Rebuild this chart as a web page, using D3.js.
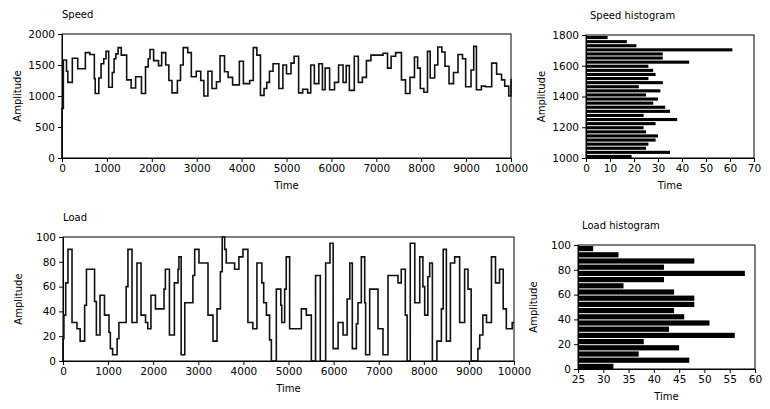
<!DOCTYPE html>
<html><head><meta charset="utf-8">
<script src="https://cdn.jsdelivr.net/npm/d3@7"></script>
<style>
body{margin:0;background:#fff;}
text{font-family:"DejaVu Sans",sans-serif;font-size:10px;fill:#000;}
.axis path,.axis line{stroke:#000;}
</style></head><body><svg id="c" width="770" height="409"></svg>
<script>
// step series: [start time, value]
var speedSteps = [[0,800],[30,1580],[100,1400],[130,1220],[230,1610],[350,1440],[520,1700],[620,1670],[720,1280],[740,1040],[820,1290],[870,1520],[930,1600],[980,1720],[1040,1140],[1120,1380],[1160,1600],[1200,1680],[1250,1780],[1320,1660],[1440,1260],[1540,1130],[1640,1310],[1770,1040],[1860,1470],[1920,1600],[1960,1750],[2040,1570],[2150,1490],[2220,1700],[2310,1500],[2380,1250],[2450,1050],[2570,1250],[2640,1500],[2700,1780],[2800,1700],[2880,1310],[2990,1400],[3090,1250],[3160,1000],[3250,1400],[3340,1120],[3440,1230],[3520,1650],[3620,1390],[3700,1300],[3800,1180],[3950,1560],[4040,1200],[4180,1250],[4260,1780],[4340,1660],[4420,1010],[4500,1120],[4560,1220],[4620,1400],[4700,1520],[4830,1120],[4920,1500],[5000,1360],[5100,1530],[5170,1640],[5270,1050],[5360,1110],[5470,1050],[5540,1500],[5620,1200],[5720,1520],[5800,1100],[5860,1450],[5960,1100],[6070,1220],[6160,1500],[6260,1220],[6330,1490],[6400,1090],[6510,1640],[6600,1220],[6690,1300],[6780,1570],[6880,1660],[7150,1690],[7250,1450],[7330,1640],[7430,1700],[7560,1260],[7650,1040],[7750,1300],[7850,1630],[7920,1450],[7980,1120],[8060,1060],[8140,1720],[8200,1290],[8300,1500],[8370,1790],[8460,1710],[8530,1480],[8620,1200],[8720,1380],[8820,1670],[8920,1600],[8990,1150],[9110,1420],[9170,1800],[9230,1100],[9340,1160],[9430,1150],[9570,1530],[9680,1350],[9790,1260],[9860,1160],[9950,1000],[10000,1280]];
var loadSteps = [[0,18],[20,37],[60,63],[110,90],[200,31],[310,26],[380,16],[480,45],[520,74],[700,48],[740,21],[820,53],[920,37],[1020,23],[1050,10],[1100,5],[1200,18],[1240,31],[1400,60],[1440,90],[1530,31],[1640,79],[1730,37],[1830,31],[1880,26],[1950,53],[2050,42],[2240,58],[2270,74],[2360,21],[2470,63],[2550,74],[2570,84],[2620,5],[2700,47],[2880,69],[2920,90],[3015,79],[3215,37],[3326,16],[3415,42],[3490,72],[3530,100],[3585,90],[3620,79],[3805,74],[3900,84],[3990,90],[4100,31],[4210,26],[4300,79],[4410,63],[4450,47],[4510,37],[4580,17],[4620,0],[4730,58],[4830,45],[4850,31],[4915,58],[4950,84],[5025,26],[5285,42],[5395,37],[5506,0],[5600,69],[5705,0],[5824,79],[5920,95],[5990,10],[6100,31],[6210,21],[6300,50],[6360,79],[6415,10],[6505,30],[6540,47],[6615,84],[6690,47],[6710,5],[6800,58],[6985,26],[7095,5],[7206,69],[7428,63],[7500,74],[7590,37],[7630,0],[7700,95],[7800,47],[7910,84],[7980,60],[8020,37],[8090,68],[8130,79],[8190,0],[8290,16],[8390,42],[8430,90],[8500,16],[8590,79],[8685,84],[8795,31],[8905,74],[8980,58],[9050,0],[9200,10],[9240,21],[9310,37],[9390,31],[9500,84],[9590,63],[9680,74],[9760,42],[9830,26],[9960,31],[10000,31]];
// histogram counts, top bin first
var speedHist = [9,17,21,61,32,32,43,26,28,29,26,32,22,31,25,30,28,33,35,24,38,29,24,25,30,29,26,25,35,19];
var loadHist = [28,33,48,42,58,42,34,44,48,48,44,46,51,43,56,38,45,37,47,32];
var timeTicks = d3.range(0, 10001, 1000);

var svg = d3.select("#c");

function axes(g, x, y, w, h, xt, yt, yLabel) {
  g.append("rect").attr("width", w).attr("height", h)
    .attr("fill", "none").attr("stroke", "#000");
  g.append("g").attr("class", "axis").attr("transform", `translate(0,${h})`)
    .call(d3.axisBottom(x).tickValues(xt).tickSize(4).tickSizeOuter(0).tickFormat(d3.format("d")));
  g.append("g").attr("class", "axis")
    .call(d3.axisLeft(y).tickValues(yt).tickSize(4).tickSizeOuter(0).tickFormat(d3.format("d")));
  g.selectAll(".axis text").style("font-size", "10.5px");
  g.append("text").attr("x", w / 2).attr("y", h + 31).attr("text-anchor", "middle").text("Time");
  if (yLabel) g.append("text").attr("transform", `translate(-41,${h / 2}) rotate(-90)`)
    .attr("text-anchor", "middle").text("Amplitude");
}

function stepPlot(left, top, w, h, data, ymax, yt, title) {
  var g = svg.append("g").attr("transform", `translate(${left},${top})`);
  var x = d3.scaleLinear().domain([0, 10000]).range([0, w]);
  var y = d3.scaleLinear().domain([0, ymax]).range([h, 0]);
  axes(g, x, y, w, h, timeTicks, yt, true);
  var pts = [[0, 0]].concat(data);
  g.append("path").datum(pts)
    .attr("fill", "none").attr("stroke", "#111").attr("stroke-width", 1.6)
    .attr("d", d3.line().x(d => x(d[0])).y(d => y(d[1])).curve(d3.curveStepAfter));
  svg.append("text").attr("x", left).attr("y", top - 16).text(title);
}

function hist(left, top, w, h, counts, x0, x1, xt, y0, y1, yt, title) {
  var g = svg.append("g").attr("transform", `translate(${left},${top})`);
  var x = d3.scaleLinear().domain([x0, x1]).range([0, w]);
  var y = d3.scaleLinear().domain([y0, y1]).range([h, 0]);
  var step = (y1 - y0) / counts.length;
  g.selectAll(".bar").data(counts).enter().append("rect")
    .attr("x", 0)
    .attr("y", (d, i) => y(y1 - i * step) + 1)
    .attr("width", d => x(d))
    .attr("height", (d, i) => y(y1 - (i + 1) * step) - y(y1 - i * step) - 1)
    .attr("fill", "#000");
  axes(g, x, y, w, h, xt, yt, true);
  svg.append("text").attr("x", left + 4).attr("y", top - 16).text(title);
}

stepPlot(62, 34, 449, 124, speedSteps, 2000, [0, 500, 1000, 1500, 2000], "Speed");
stepPlot(63, 237, 451, 124, loadSteps, 100, [0, 20, 40, 60, 80, 100], "Load");
hist(586, 35, 168, 123, speedHist, 0, 70, d3.range(0, 71, 10), 1000, 1800, [1000, 1200, 1400, 1600, 1800], "Speed histogram");
hist(578, 245, 177, 124, loadHist, 25, 60, d3.range(25, 61, 5), 0, 100, [0, 20, 40, 60, 80, 100], "Load histogram");
</script></body></html>
